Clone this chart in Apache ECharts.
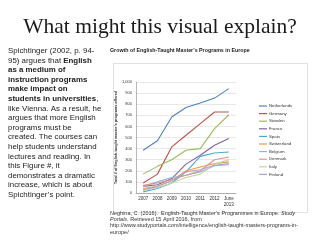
<!DOCTYPE html>
<html lang="en" style="height: 100%">
<head>
  <meta charset="utf-8">
</head>
<body style="height: 100%; margin: 0; background: #fff">
  <div id="container" style="width: 320px; height: 240px"></div>

  <script type="text/javascript" src="https://cdn.jsdelivr.net/npm/echarts@6/dist/echarts.min.js"></script>

  <script type="text/javascript">
    var dom = document.getElementById('container');
    var myChart = echarts.init(dom, null, { renderer: 'canvas' });

    // years on the x axis (last one is June 2013)
    const years = ['2007', '2008', '2009', '2010', '2011', '2012', 'June\n2013'];

    // programs offered per country
    const netherlands = [385, 470, 685, 770, 810, 855, 940];
    const germany     = [90, 170, 415, 520, 625, 730, 730];
    const sweden      = [170, 240, 300, 385, 400, 580, 705];
    const france      = [60, 75, 130, 260, 340, 430, 490];
    const spain       = [10, 40, 90, 190, 330, 360, 370];
    const switzerland = [40, 60, 110, 200, 235, 265, 280];
    const belgium     = [60, 100, 140, 160, 190, 245, 255];
    const denmark     = [70, 90, 120, 160, 200, 300, 325];
    const italy       = [20, 50, 90, 140, 170, 260, 300];
    const finland     = [30, 60, 110, 190, 210, 250, 265];

    const countries = ['Netherlands', 'Germany', 'Sweden', 'France', 'Spain',
      'Switzerland', 'Belgium', 'Denmark', 'Italy', 'Finland'];
    const values = [netherlands, germany, sweden, france, spain,
      switzerland, belgium, denmark, italy, finland];
    const colors = ['#4F81BD', '#C0504D', '#9BBB59', '#8064A2', '#4BACC6',
      '#F79646', '#95B3D7', '#D99694', '#C3D69B', '#B3A2C7'];

    const yTicks = { min: 0, max: 1000, interval: 100 };

    const paragraph = [
      'Spichtinger (2002, p. 94-',
      '95) argues that {b|English}',
      '{b|as a medium of}',
      '{b|instruction programs}',
      '{b|make impact on}',
      '{b|students in universities},',
      'like Vienna. As a result, he',
      'argues that more English',
      'programs must be',
      'created. The courses can',
      'help students understand',
      'lectures and reading. In',
      'this Figure #, it',
      'demonstrates a dramatic',
      'increase, which is about',
      'Spichtinger\u2019s point.'
    ].join('\n');

    const caption = [
      'Neghina, C. (2016).  English-Taught Master\u2019s Programmes in Europe. {i|Study}',
      '{i|Portals}. Retrieved 15 April 2016, from',
      'http://www.studyportals.com/intelligence/english-taught-masters-programs-in-',
      'europe/'
    ].join('\n');

    var option = {
      backgroundColor: '#fff',
      animation: false,
      color: colors,
      grid: { left: 136, right: 84, top: 82, bottom: 47 },
      xAxis: {
        type: 'category',
        data: years,
        boundaryGap: true,
        axisLine: { lineStyle: { color: '#868686', width: 0.6 } },
        axisTick: { length: 2, lineStyle: { color: '#868686', width: 0.6 } },
        axisLabel: { fontSize: 4.5, color: '#333', margin: 3, lineHeight: 6, fontFamily: 'Liberation Sans' }
      },
      yAxis: {
        type: 'value',
        min: yTicks.min,
        max: yTicks.max,
        interval: yTicks.interval,
        name: 'Total # of English-taught master\u2019s programs offered',
        nameLocation: 'middle',
        nameRotate: 90,
        nameGap: 15,
        nameTextStyle: { fontSize: 3.8, fontWeight: 'bold', color: '#333', fontFamily: 'Liberation Sans' },
        axisLine: { show: true, lineStyle: { color: '#868686', width: 0.6 } },
        axisTick: { show: false },
        splitLine: { lineStyle: { color: '#d9d9d9', width: 0.6 } },
        axisLabel: {
          fontSize: 4, color: '#333', margin: 4, fontFamily: 'Liberation Sans',
          formatter: function (v) { return v.toLocaleString('en-US'); }
        }
      },
      legend: {
        orient: 'vertical',
        left: 254,
        top: 99,
        icon: 'rect',
        itemWidth: 8,
        itemHeight: 1.2,
        itemGap: 3.6,
        textStyle: { fontSize: 4.3, color: '#333', padding: [0, 0, 0, -3], fontFamily: 'Liberation Sans' },
        data: countries
      },
      series: countries.map(function (name, i) {
        return {
          name: name,
          type: 'line',
          data: values[i],
          symbol: 'none',
          lineStyle: { width: 1.1 }
        };
      }),
      graphic: {
        elements: [
          {
            type: 'rect', z: -1,
            shape: { x: 113.5, y: 63.5, width: 194, height: 149 },
            style: { fill: '#fff', stroke: '#d9d9d9', lineWidth: 0.8 }
          },
          {
            type: 'text', left: 'center', top: 16,
            style: { text: 'What might this visual explain?', font: '21.5px "Liberation Serif"', fill: '#1a1a1a' }
          },
          {
            type: 'text', left: 110, top: 48,
            style: { text: 'Growth of English-Taught Master\u2019s Programs in Europe', font: 'bold 5.3px "Liberation Sans"', fill: '#222' }
          },
          {
            type: 'text', left: 8, top: 46,
            style: {
              text: paragraph,
              font: '7.9px "Liberation Sans"',
              lineHeight: 9.6,
              fill: '#222',
              rich: { b: { font: 'bold 7.9px "Liberation Sans"', lineHeight: 9.6, fill: '#222' } }
            }
          },
          {
            type: 'text', left: 110, top: 210,
            style: {
              text: caption,
              font: '5.5px "Liberation Sans"',
              lineHeight: 6.3,
              fill: '#333',
              rich: { i: { font: 'italic 5.5px "Liberation Sans"', lineHeight: 6.3, fill: '#333' } }
            }
          }
        ]
      }
    };

    myChart.setOption(option);
    window.addEventListener('resize', myChart.resize);
  </script>
</body>
</html>
